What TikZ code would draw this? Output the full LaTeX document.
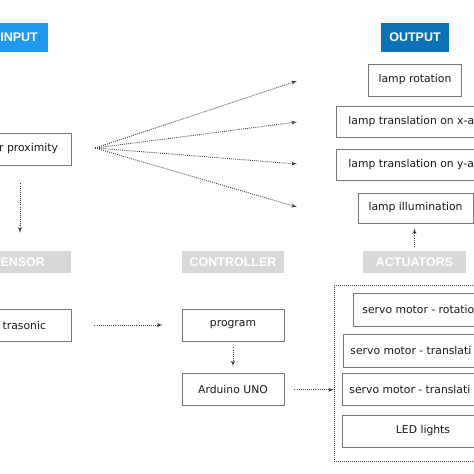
\documentclass[tikz,border=0pt]{standalone}
\usepackage{fontspec}
\setmainfont{DejaVu Sans}
\newfontfamily\headfont{Liberation Sans}
\usepackage{xcolor}
\usepackage{tikz}
\usetikzlibrary{arrows,positioning}
\definecolor{inblue}{RGB}{30,152,240}
\definecolor{outblue}{RGB}{11,114,186}
\definecolor{labgray}{RGB}{216,216,216}
\definecolor{boxline}{RGB}{120,120,120}
\definecolor{dotline}{RGB}{60,60,60}
\definecolor{txt}{RGB}{25,25,25}
\tikzstyle{block} = [rectangle, draw=boxline, line width=0.8pt, text=txt,
    minimum height=32pt, inner xsep=10pt, font=\fontsize{10.8}{12}\selectfont]
\tikzstyle{head} = [rectangle, text=white, minimum height=22pt, inner xsep=8pt,
    font=\headfont\bfseries\fontsize{12.5}{14}\selectfont]
\tikzstyle{line} = [draw=dotline, dash pattern=on 0.9pt off 1.2pt, line width=0.9pt, -latex']

\begin{document}
\begin{tikzpicture}[x=1pt,y=-1pt]
            \useasboundingbox (0,0) rectangle (474,474);
            \clip (0,0) rectangle (474,474);
            \fill [white] (0,0) rectangle (474,474);

            % Input and sensor
            \node [head, fill=inblue, minimum height=29pt, anchor=east, inner xsep=10pt] (input) at (48,37.5) {INPUT};
            \node [block, text width=76pt, align=right, inner xsep=13pt] (prox) at (20,149) {r proximity};
            \node [head, fill=labgray, text width=50pt, align=right, inner xsep=26pt] (sensor) at (20,262) {ENSOR};
            \node [block, text width=52pt, align=right, inner xsep=25pt] (sonic) at (20,325) {trasonic};

            % Controller
            \node [head, fill=labgray, minimum width=102pt] (ctrl) at (233,262) {CONTROLLER};
            \node [block, minimum width=102pt] (program) at (233,325) {program};
            \node [block, minimum width=102pt] (arduino) [below=32pt of program] {Arduino UNO};

            % Output
            \node [head, fill=outblue, minimum width=68pt, minimum height=29pt] (output) at (415,37.5) {OUTPUT};
            \node [block, minimum width=86pt] (rot) at (415,80) {lamp rotation};
            \node [block, anchor=west, inner xsep=12pt, minimum height=31pt] (xaxis) at (336,121.5) {lamp translation on x-a};
            \node [block, anchor=west, inner xsep=12pt, minimum height=31pt] (yaxis) at (336,164.5) {lamp translation on y-a};
            \node [block, minimum width=115pt, minimum height=30pt] (illum) at (415.5,208) {lamp illumination};

            % Actuators
            \node [head, fill=labgray, minimum width=103pt] (act) at (414.5,262) {ACTUATORS};
            \node [draw=dotline, dash pattern=on 0.8pt off 1.2pt, line width=0.8pt, anchor=north west,
                   minimum width=160pt, minimum height=176pt] (actbox) at (334,285) {};
            \node [block, anchor=west, inner xsep=9pt, minimum height=33pt] (servorot) at (353,309.5) {servo motor - rotatio};
            \node [block, anchor=west, inner xsep=7pt, minimum height=33pt] (servox) at (343,350.5) {servo motor - translati};
            \node [block, anchor=west, inner xsep=7pt] (servoy) at (342,389) {servo motor - translati};
            \node [block, minimum width=162pt] (led) at (423,431) {LED lights};

            % Connect everything
            \coordinate (fan) at (95,148);
            \coordinate (t1) at (297,81);
            \coordinate (t2) at (297,122);
            \coordinate (t3) at (297,164);
            \coordinate (t4) at (297,207);
            \path [line] (fan) -- (t1);
            \path [line] (fan) -- (t2);
            \path [line] (fan) -- (t3);
            \path [line] (fan) -- (t4);
            \path [line, shorten <=18pt, shorten >=18pt] (prox.south) -- (sensor.north);
            \path [line, shorten <=23pt, shorten >=19pt] (sonic.east) -- (program.west);
            \path [line, shorten <=6pt, shorten >=7pt] (program) -- (arduino);
            \path [line, shorten <=10pt] (arduino.east) -- (arduino.east -| actbox.west);
            \path [line, shorten <=4pt, shorten >=5pt] (act.north) -- (act.north |- illum.south);
        \end{tikzpicture}
\end{document}
